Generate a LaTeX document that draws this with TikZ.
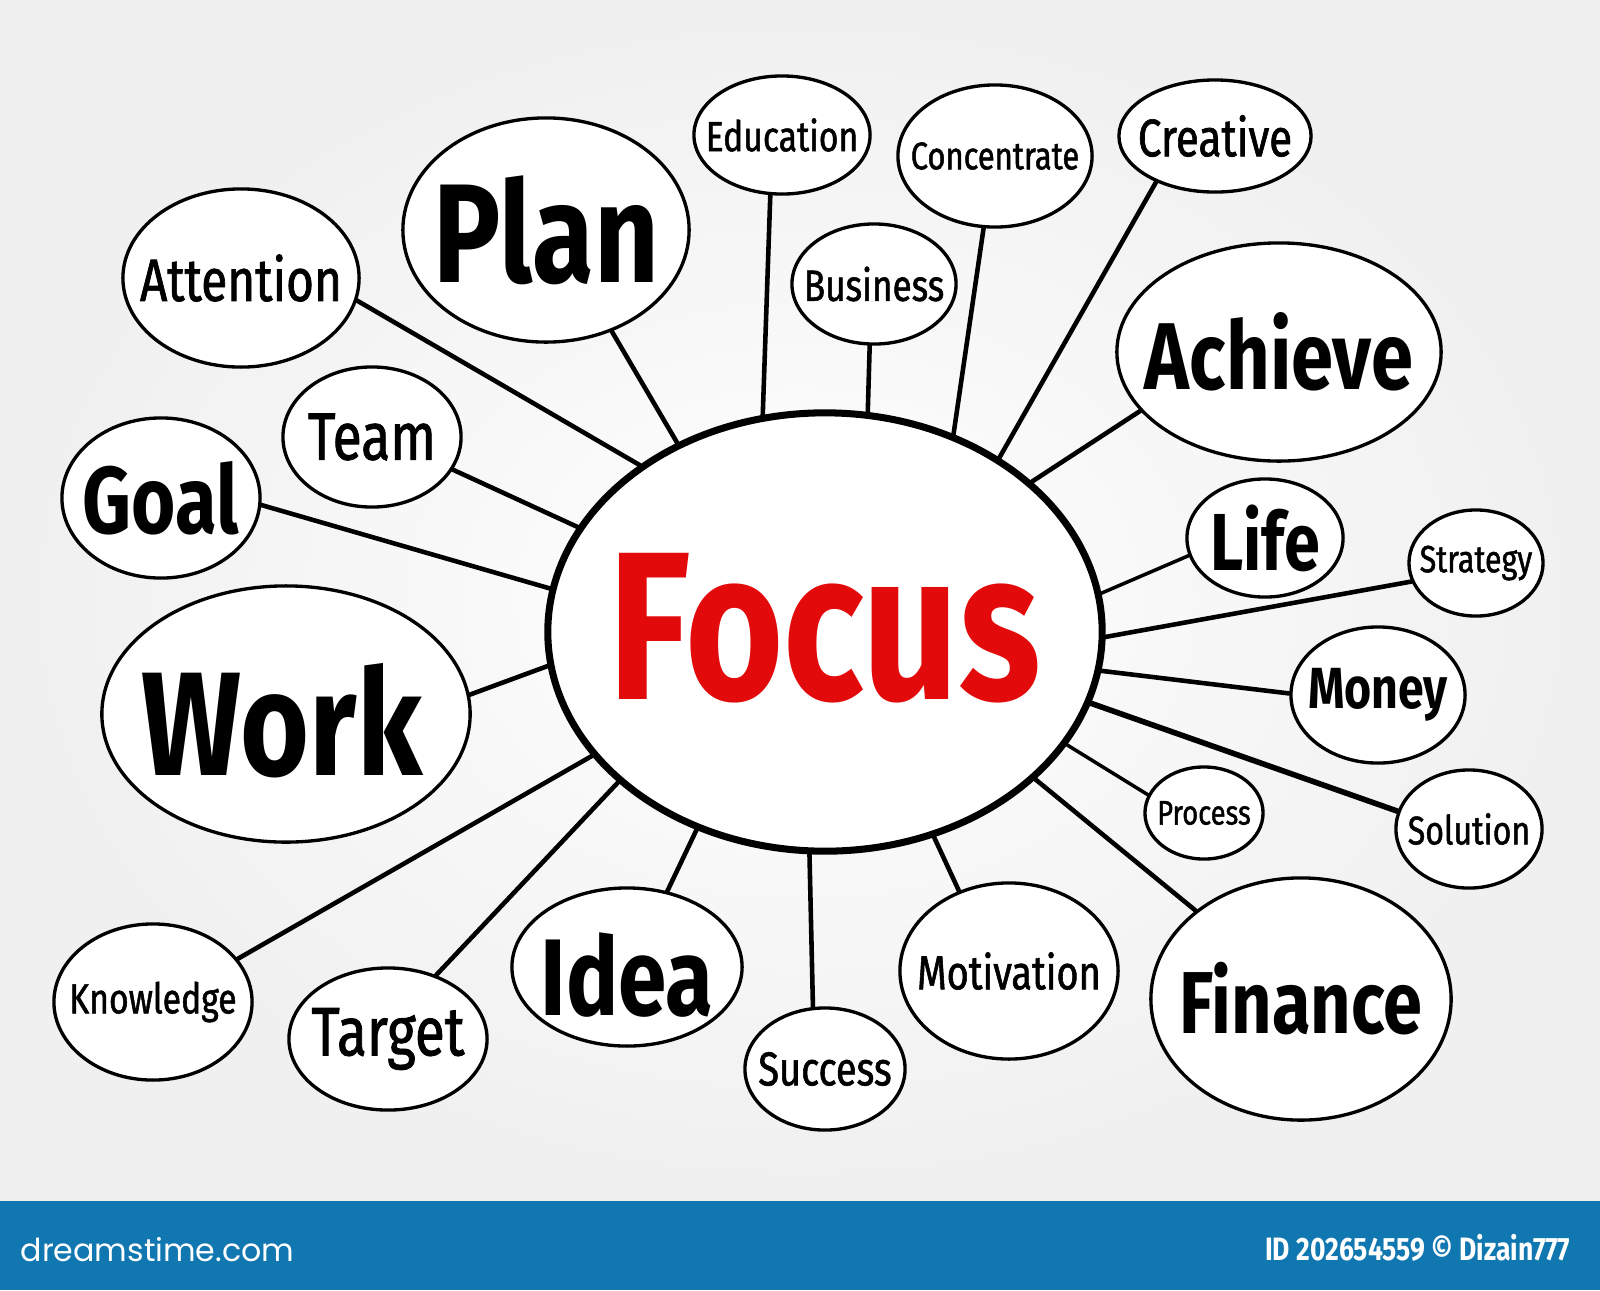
\documentclass[tikz,border=0pt]{standalone}
\usepackage{fontspec}
\setmainfont{Fira Sans}
\newfontfamily\hand{Fira Sans}[FakeStretch=0.8]
\newfontfamily\handm{Fira Sans}[FakeStretch=0.8, FakeBold=1.2]
\newfontfamily\wmfont{Poppins}
\newfontfamily\idfont{Fira Sans}[FakeStretch=0.82]
\usetikzlibrary{shapes.geometric}
\definecolor{barblue}{HTML}{1077B0}
\definecolor{focusred}{HTML}{E20A0A}
\begin{document}
\begin{tikzpicture}[x=0.01cm,y=-0.01cm,
  bub/.style={ellipse, draw=black, line width=0.95pt, fill=white, inner sep=0pt},
  sz/.style 2 args={minimum width=#1*0.02cm, minimum height=#2*0.02cm},
  link/.style={line width=1.3pt, line cap=round},
  thin link/.style={line width=1.0pt, line cap=round},
  thick link/.style={line width=1.6pt, line cap=round},
  big/.style={font=\hand\bfseries\fontsize{#1}{#1}\selectfont, inner sep=0pt},
  small/.style={font=\handm\fontsize{#1}{#1}\selectfont, inner sep=0pt}]
\useasboundingbox (0,0) rectangle (1600,1290);
% background
\shade[inner color=white, outer color=black!6] (0,0) rectangle (1600,1201);
\fill[barblue] (0,1201) rectangle (1600,1290);
\node[font=\wmfont\fontsize{9}{9}\selectfont, text=white, anchor=west, inner sep=0pt] (site) at (20,1250) {dreamstime.com};
\node[font=\idfont\bfseries\fontsize{9.2}{9.2}\selectfont, text=white, anchor=east, inner sep=0pt] (imgid) at (1571,1248) {ID 202654559 © Dizain777};

% bubbles
\node[bub, sz={277}{219}, line width=2pt] (focus) at (825,632) {};
\node[bub, sz={143}{112}] (plan) at (546,230) {};
\node[bub, sz={118}{89}] (attention) at (241,278) {};
\node[bub, sz={88}{59}] (education) at (782,135) {};
\node[bub, sz={97}{71}] (concentrate) at (995,156) {};
\node[bub, sz={96}{56}] (creative) at (1215,136) {};
\node[bub, sz={82}{60}] (business) at (874,284) {};
\node[bub, sz={162}{109}] (achieve) at (1279,352) {};
\node[bub, sz={89}{70}] (team) at (372,437) {};
\node[bub, sz={99}{80}] (goal) at (161,498) {};
\node[bub, sz={184}{128}] (work) at (286,714) {};
\node[bub, sz={78}{59}] (life) at (1265,538) {};
\node[bub, sz={67}{53}] (strategy) at (1476,563) {};
\node[bub, sz={87}{68}] (money) at (1378,695) {};
\node[bub, sz={59}{46}] (process) at (1204,813) {};
\node[bub, sz={73}{59}] (solution) at (1469,829) {};
\node[bub, sz={150}{121}] (finance) at (1301,999) {};
\node[bub, sz={109}{88}] (motivation) at (1009,971) {};
\node[bub, sz={80}{61}] (success) at (825,1069) {};
\node[bub, sz={115}{79}] (idea) at (627,967) {};
\node[bub, sz={99}{71}] (target) at (388,1039) {};
\node[bub, sz={99}{78}] (knowledge) at (153,1002) {};

% texts
\node[big=60, text=focusred] (tfocus) at ([yshift=0.04cm]focus.center) {Focus};
\node[big=40] (tplan) at (plan) {Plan};
\node[small=17] (tattention) at (attention) {Attention};
\node[small=12] (teducation) at (education) {Education};
\node[small=11] (tconcentrate) at (concentrate) {Concentrate};
\node[small=15] (tcreative) at (creative) {Creative};
\node[small=12.5] (tbusiness) at (business) {Business};
\node[big=27] (tachieve) at (achieve) {Achieve};
\node[small=19] (tteam) at (team) {Team};
\node[big=27] (tgoal) at (goal) {Goal};
\node[big=42] (twork) at ([xshift=-0.04cm,yshift=-0.07cm]work.center) {Work};
\node[big=23] (tlife) at (life) {Life};
\node[small=10.8] (tstrategy) at (strategy) {Strategy};
\node[big=16.5] (tmoney) at (money) {Money};
\node[small=9.7] (tprocess) at (process) {Process};
\node[small=11.4] (tsolution) at (solution) {Solution};
\node[big=25] (tfinance) at (finance) {Finance};
\node[small=13.5] (tmotivation) at (motivation) {Motivation};
\node[small=13.5] (tsuccess) at (success) {Success};
\node[big=31] (tidea) at ([yshift=-0.08cm]idea.center) {Idea};
\node[small=19.5] (ttarget) at (target) {Target};
\node[small=12] (tknowledge) at (knowledge) {Knowledge};

% connectors
\draw[link] (attention.-11) -- (focus.138.5);
\draw[link] (plan.-57) -- (focus.128);
\draw[link] (education.-101.5) -- (focus.106);
\draw[link] (business.-94) -- (focus.79);
\draw[link] (concentrate.-99.6) -- (focus.57.6);
\draw[link] (creative.-142.4) -- (focus.45.8);
\draw[link] (achieve.-157) -- (focus.36.2);
\draw[link] (team.-22) -- (focus.157.3);
\draw[link] (goal.-4) -- (focus.171.7);
\draw[link] (work.6.3) -- (focus.187.7);
\draw[link] (knowledge.27.3) -- (focus.-152);
\draw[link] (target.53.6) -- (focus.-144.9);
\draw[link] (idea.62) -- (focus.-123.9);
\draw[link] (success.101.5) -- (focus.-94);
\draw[link] (motivation.122.6) -- (focus.-62.4);
\draw[link] (finance.140.9) -- (focus.-35.7);
\draw[thin link] (process.162.2) -- (focus.-25.5);
\draw[thick link] (solution.166.8) -- (focus.-15);
\draw[link] (money.179.3) -- (focus.-8);
\draw[link] (strategy.196.1) -- (focus.-1.6);
\draw[thin link] (life.193.3) -- (focus.8.6);
\end{tikzpicture}
\end{document}
